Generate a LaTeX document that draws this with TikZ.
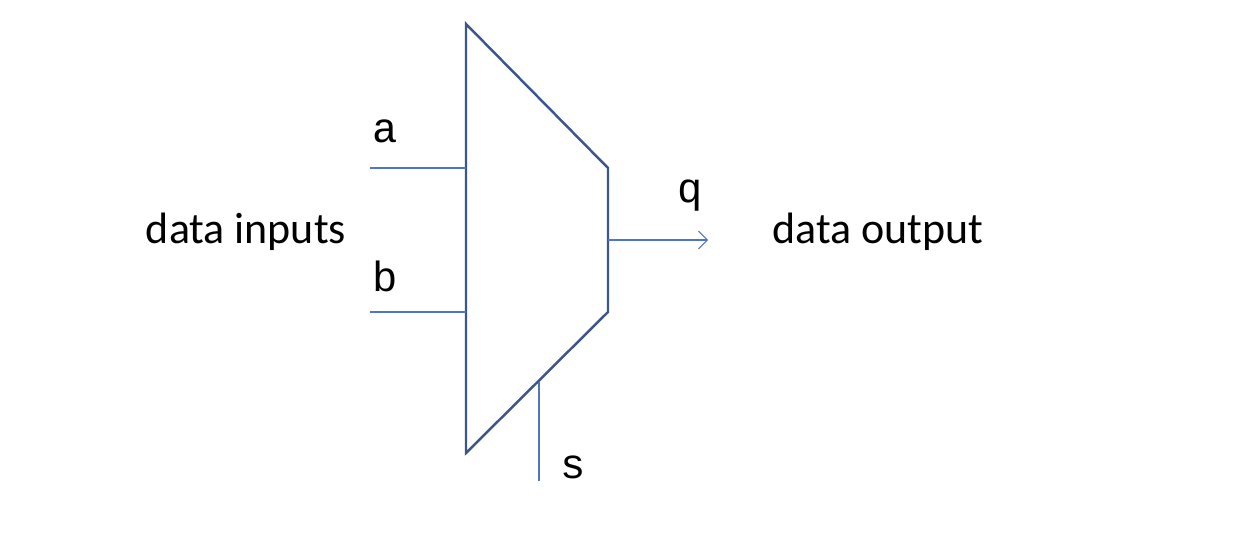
\documentclass[tikz,border=0pt]{standalone}
\usepackage{fontspec}
\usetikzlibrary{arrows.meta}
\setmainfont{Carlito}
\newfontfamily\courfont{Liberation Mono}
\definecolor{muxc}{RGB}{58,86,140}
\definecolor{wirec}{RGB}{78,118,196}
\begin{document}
\begin{tikzpicture}[x=0.02cm,y=-0.02cm,
  mux/.style={draw=muxc,line width=1.4pt,line join=miter},
  wire/.style={draw=wirec,line width=0.6pt},
  lbl/.style={font=\fontsize{25}{28}\selectfont},
  pin/.style={font=\courfont\fontsize{24}{26}\selectfont}]
\useasboundingbox (0,0) rectangle (1240,534);
\draw[mux] (466,24) -- (608,168) -- (608,312) -- (466,453) -- cycle;
\coordinate (ain) at (370,168); \coordinate (aend) at (466,168);
\coordinate (bin) at (370,312); \coordinate (bend) at (466,312);
\coordinate (qs) at (608,240); \coordinate (qe) at (708,240);
\coordinate (ss) at (539,382); \coordinate (se) at (539,481);
\draw[wire] (ain) -- (aend);
\draw[wire] (bin) -- (bend);
\draw[wire,-{Straight Barb[length=5pt]}] (qs) -- (qe);
\draw[wire] (ss) -- (se);
\node[pin] (a) at (385,131) {a};
\node[pin] (b) at (385,276) {b};
\node[pin] (q) at (690,196) {q};
\node[pin] (s) at (573,467) {s};
\node[lbl] (di) at (246,232) {data inputs};
\node[lbl] (do) at (878,232) {data output};
\end{tikzpicture}
\end{document}
